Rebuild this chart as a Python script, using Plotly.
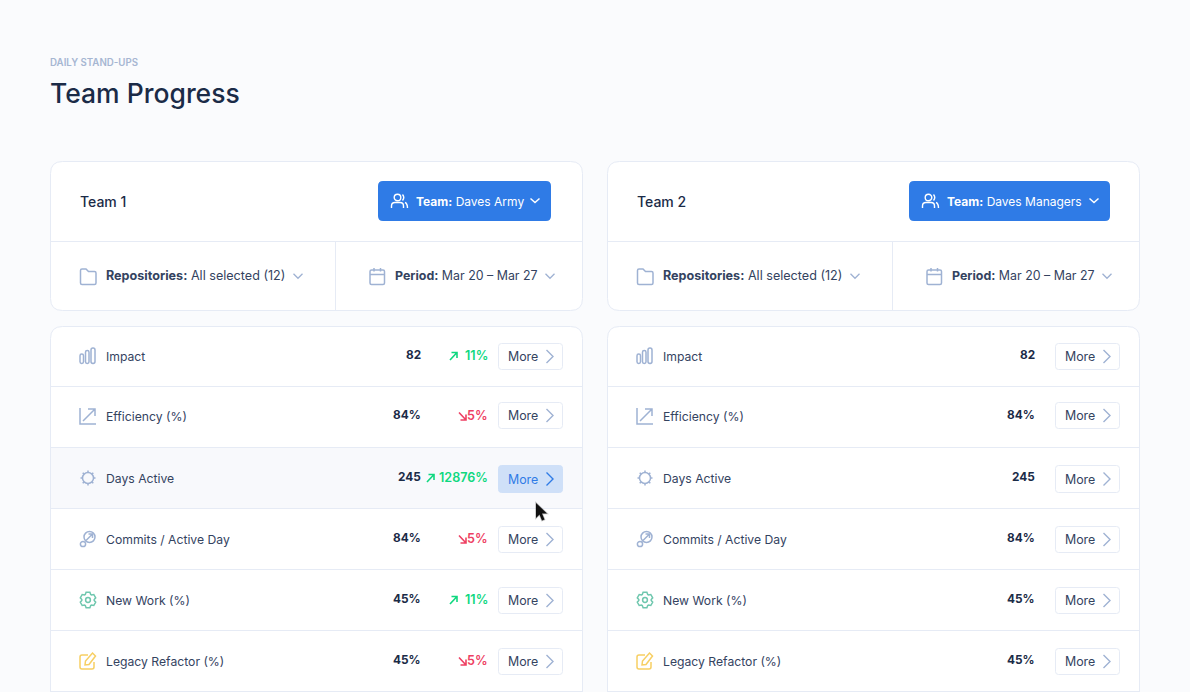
import math

from plotly import graph_objs as go

# values
metrics = ["Impact", "Efficiency (%)", "Days Active", "Commits / Active Day", "New Work (%)", "Legacy Refactor (%)"]
value_labels = ["82", "84%", "245", "84%", "45%", "45%"]
team1_changes = [11, -5, 12876, -5, 11, -5]
team2_changes = [None, None, None, None, None, None]
team_names = ["Team 1", "Team 2"]
team_filters = ["Daves Army", "Daves Managers"]
repo_filter = "All selected (12)"
period_filter = "Mar 20 – Mar 27"

FONT = "Inter"
INK = "#1b2b47"
BODY = "#34435f"
ICON = "#9fb2d3"
BORDER = "#e6ebf5"
BLUE = "#2f7be6"
GREEN = "#0fd87f"
RED = "#ee3f63"
TEAL = "#6fc7ae"
YELLOW = "#f7cf63"

fig = go.Figure()


def rrect(x0, y0, x1, y1, r, tl=True, tr=True, br=True, bl=True):
    rs = [r if c else 0 for c in (tl, tr, br, bl)]
    return (
        f"M{x0 + rs[0]},{y0} L{x1 - rs[1]},{y0} Q{x1},{y0} {x1},{y0 + rs[1]} "
        f"L{x1},{y1 - rs[2]} Q{x1},{y1} {x1 - rs[2]},{y1} "
        f"L{x0 + rs[3]},{y1} Q{x0},{y1} {x0},{y1 - rs[3]} "
        f"L{x0},{y0 + rs[0]} Q{x0},{y0} {x0 + rs[0]},{y0} Z"
    )


def path(d, color=ICON, width=1.5, fill=None):
    fig.add_shape(
        type="path", path=d, xref="x", yref="y",
        line=dict(color=color, width=width) if width else dict(width=0),
        fillcolor=fill,
    )


def circle(cx, cy, r, color=ICON, width=1.5, fill=None):
    fig.add_shape(
        type="circle", xref="x", yref="y", x0=cx - r, y0=cy - r, x1=cx + r, y1=cy + r,
        line=dict(color=color, width=width), fillcolor=fill,
    )


def text(x, y, s, size=12.4, color=BODY, anchor="left", weight=400):
    # annotations carry 1px of padding, take it back out
    x = x - 1 if anchor == "left" else x + 1
    fig.add_annotation(
        x=x, y=y, text=s, showarrow=False, xanchor=anchor, yanchor="middle",
        xref="x", yref="y", borderpad=0,
        font=dict(family=FONT, size=size, color=color, weight=weight),
    )


def chevron_down(cx, cy, color=ICON, w=4.5, h=4.5, width=1.3):
    path(f"M{cx - w},{cy - h / 2} L{cx},{cy + h / 2} L{cx + w},{cy - h / 2}", color, width)


def chevron_right(cx, cy, color=ICON):
    path(f"M{cx - 3.5},{cy - 6.5} L{cx + 3},{cy} L{cx - 3.5},{cy + 6.5}", color, 1.4)


def icon_bars(x, y):
    path(rrect(x, y - 2, x + 3.5, y + 7.5, 1.7))
    path(rrect(x + 5.5, y - 5.5, x + 9, y + 7.5, 1.7))
    path(rrect(x + 11, y - 8, x + 15, y + 7.5, 1.9))


def icon_growth(x, y):
    path(f"M{x},{y - 8} L{x},{y + 8} L{x + 16},{y + 8}")
    path(f"M{x + 3},{y + 5} L{x + 15},{y - 7} M{x + 8},{y - 7} L{x + 15},{y - 7} L{x + 15},{y}")


def icon_sun(x, y):
    cx = x + 8
    circle(cx, y, 5.5)
    for i in range(8):
        a = math.pi / 4 * i
        path(
            f"M{cx + 5.5 * math.cos(a):.1f},{y + 5.5 * math.sin(a):.1f} "
            f"L{cx + 7.5 * math.cos(a):.1f},{y + 7.5 * math.sin(a):.1f}"
        )


def icon_commits(x, y):
    circle(x + 9.5, y - 2, 5.5)
    circle(x + 3, y + 5, 2.6)
    path(f"M{x + 6},{y + 1.5} L{x + 12.5},{y - 5} M{x + 8.5},{y - 5} L{x + 12.5},{y - 5} L{x + 12.5},{y - 1}")


def icon_gear(x, y):
    cx = x + 8
    pts = []
    for i in range(6):
        a = math.pi / 3 * i - math.pi / 2
        for da, r in ((-0.24, 8), (0.24, 8), (0.45, 6.2)):
            pts.append((cx + r * math.cos(a + da), y + r * math.sin(a + da)))
        pts.append((cx + 6.2 * math.cos(a + math.pi / 3 - 0.45), y + 6.2 * math.sin(a + math.pi / 3 - 0.45)))
    path("M" + " L".join(f"{px:.1f},{py:.1f}" for px, py in pts) + " Z", TEAL)
    circle(cx, y, 2.4, TEAL)


def icon_pencil(x, y):
    path(
        f"M{x + 8},{y - 6} L{x + 2},{y - 6} Q{x},{y - 6} {x},{y - 4} L{x},{y + 6} Q{x},{y + 8} {x + 2},{y + 8} "
        f"L{x + 12},{y + 8} Q{x + 14},{y + 8} {x + 14},{y + 6} L{x + 14},{y + 1}",
        YELLOW,
    )
    path(
        f"M{x + 5},{y + 4} L{x + 5.5},{y} L{x + 12.5},{y - 8} L{x + 15.5},{y - 5} L{x + 9},{y + 3.5} Z",
        YELLOW,
    )


def icon_folder(x, y):
    path(
        f"M{x},{y - 5.5} Q{x},{y - 7} {x + 1.5},{y - 7} L{x + 5.5},{y - 7} L{x + 8},{y - 4.5} L{x + 14},{y - 4.5} "
        f"Q{x + 15.5},{y - 4.5} {x + 15.5},{y - 3} L{x + 15.5},{y + 7} Q{x + 15.5},{y + 8.5} {x + 14},{y + 8.5} "
        f"L{x + 1.5},{y + 8.5} Q{x},{y + 8.5} {x},{y + 7} Z"
    )


def icon_calendar(x, y):
    path(rrect(x, y - 6, x + 14.5, y + 8.5, 1.5))
    path(f"M{x},{y - 1.5} L{x + 14.5},{y - 1.5} M{x + 4},{y - 8} L{x + 4},{y - 4.5} M{x + 10.5},{y - 8} L{x + 10.5},{y - 4.5}")


def icon_users(x, y):
    circle(x + 6, y - 3.5, 3.3, "white", 1.4)
    path(f"M{x},{y + 7} L{x},{y + 5} Q{x},{y + 1.5} {x + 3.5},{y + 1.5} L{x + 8.5},{y + 1.5} Q{x + 12},{y + 1.5} {x + 12},{y + 5} L{x + 12},{y + 7}", "white", 1.4)
    path(f"M{x + 11},{y - 6.5} Q{x + 13.5},{y - 3.5} {x + 11},{y - 0.5}", "white", 1.4)
    path(f"M{x + 13.5},{y + 1.5} Q{x + 16},{y + 2.5} {x + 16},{y + 7}", "white", 1.4)


row_icons = [icon_bars, icon_growth, icon_sun, icon_commits, icon_gear, icon_pencil]
row_text_y = [356, 416, 478, 539, 600, 661]
row_button_y = [343, 402, 465, 526, 587, 648]
row_lines = [386.5, 447.5, 508.5, 569.5, 630.5, 691.5]


def draw_team(dx, name, team, btn_x0, changes):
    left, right = 50.5 + dx, 582.5 + dx

    # top card
    path(rrect(left, 161.5, right, 310.5, 12), BORDER, 1, "white")
    path(f"M{left},241.5 L{right},241.5", BORDER, 1)
    path(f"M{335.5 + dx},241.5 L{335.5 + dx},310.5", BORDER, 1)
    text(80 + dx, 201, name, 14, INK, weight=500)

    # team picker
    btn_x1 = 551 if dx == 0 else 1110
    path(rrect(btn_x0, 181, btn_x1, 221, 5), BLUE, 0, BLUE)
    icon_users(btn_x0 + 13.5, 201)
    text(btn_x0 + 38, 201, f"<b>Team:</b> {team}", 12, "white")
    chevron_down(btn_x1 - 16, 200.5, "white", 4.5, 4, 1.5)

    # filters
    icon_folder(80.5 + dx, 276)
    text(105.5 + dx, 275, f"<b>Repositories:</b> {repo_filter}", 12.6, BODY)
    chevron_down(298 + dx, 276)
    icon_calendar(370 + dx, 276)
    text(394.5 + dx, 275, f"<b>Period:</b> {period_filter}", 12.4, BODY)
    chevron_down(550 + dx, 276)

    # metrics card, runs off the bottom of the page
    path(rrect(left, 326.5, right, 720, 12), BORDER, 1, "white")
    if dx == 0:
        path(f"M{left + 0.5},447.5 L{right - 0.5},447.5 L{right - 0.5},508.5 L{left + 0.5},508.5 Z", BORDER, 0, "#f8f9fc")
    for y in row_lines:
        path(f"M{left},{y} L{right},{y}", BORDER, 1)

    value_x = 421 if changes[0] is not None else 1035 - dx
    btn_left = 498 if changes[0] is not None else 1055 - dx
    for i, metric in enumerate(metrics):
        y = row_text_y[i]
        row_icons[i](80 + dx, y)
        text(106 + dx, y + 0.3, metric, 12.2, BODY)
        text(value_x + dx, y - 1, value_labels[i], 11.8, INK, "right", weight=700)

        change = changes[i]
        if change is not None:
            color = GREEN if change > 0 else RED
            # arrow sits just left of the label, width follows the digit count
            ax = 488 - {2: 38, 1: 29, 5: 61}[len(str(abs(change)))] + dx
            if change > 0:
                path(f"M{ax},{y + 4} L{ax + 7},{y - 3.5} M{ax + 1.5},{y - 3.5} L{ax + 7},{y - 3.5} L{ax + 7},{y + 2}", color, 1.6)
            else:
                path(f"M{ax},{y - 3.5} L{ax + 7},{y + 4} M{ax + 1.5},{y + 4} L{ax + 7},{y + 4} L{ax + 7},{y - 1.5}", color, 1.6)
            text(488 + dx, y - 1, f"{abs(change)}%", 12.6, color, "right", weight=600)

        by = row_button_y[i]
        hover = dx == 0 and i == 2
        bh = 28 if i == 2 else 27
        path(
            rrect(btn_left + dx + 0.5, by + 0.5, btn_left + 65 + dx - 0.5, by + bh - 0.5, 3),
            "#cfe0f8" if hover else BORDER, 1, "#cfe0f8" if hover else "white",
        )
        text(btn_left + 10 + dx, by + bh / 2, "More", 12.4, BLUE if hover else BODY)
        chevron_right(btn_left + 52 + dx, by + bh / 2, BLUE if hover else ICON)


draw_team(0, team_names[0], team_filters[0], 378, team1_changes)
draw_team(557, team_names[1], team_filters[1], 909, team2_changes)

# mouse pointer over the hovered button
path("M536,503 L536,518 L539.5,514.5 L542,520.5 L544.5,519.5 L542,513.5 L547,513.5 Z", "rgba(0,0,0,0.25)", 1.5, "#111111")

text(50, 62.5, "DAILY STAND-UPS", 9.7, "#a6b6d2", weight=600)
text(50, 92.5, "Team Progress", 26.5, INK, weight=500)

fig.update_layout(
    width=1190,
    height=692,
    margin=dict(l=0, r=0, t=0, b=0),
    paper_bgcolor="#fafbfd",
    plot_bgcolor="#fafbfd",
    showlegend=False,
    xaxis=dict(range=[0, 1190], visible=False, fixedrange=True),
    yaxis=dict(range=[692, 0], visible=False, fixedrange=True),
)

fig.write_html("out.html", config=dict(displayModeBar=False), post_script="document.body.style.margin='0';document.body.style.overflow='hidden';")
